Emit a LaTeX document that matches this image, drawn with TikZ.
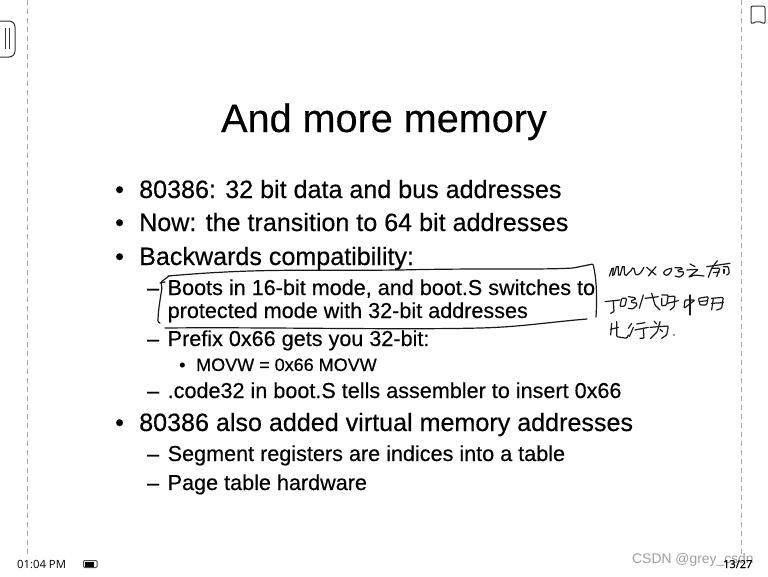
\documentclass[tikz,border=0pt]{standalone}
\usepackage{fontspec}
\setmainfont{Liberation Sans}
\newfontfamily\slidefont[FakeBold=0.35]{Liberation Sans}
\newfontfamily\statusfont{Open Sans}
\newfontfamily\pagefont[FakeBold=0.4]{Open Sans}
\tikzset{
  titletext/.style={anchor=base, inner sep=0pt, font=\fontsize{39.6}{39.6}\slidefont},
  lineone/.style={anchor=base west, inner sep=0pt, font=\fontsize{25.1}{25.1}\slidefont},
  linetwo/.style={anchor=base west, inner sep=0pt, font=\fontsize{21.6}{21.6}\slidefont},
  linethree/.style={anchor=base west, inner sep=0pt, font=\fontsize{18}{18}\slidefont},
  statustext/.style={anchor=base west, inner sep=0pt, font=\fontsize{11.3}{11.3}\statusfont},
  ink/.style={line width=1.2pt, line cap=round, line join=round, rounded corners=1pt, black!90},
  margin/.style={gray!70, line width=0.8pt, dash pattern=on 5pt off 4pt},
  chrome/.style={black!80, line width=1pt, rounded corners=2pt}
}
\begin{document}
\begin{tikzpicture}[x=1pt, y=-1pt]
\useasboundingbox (0,0) rectangle (768,576);
% margins of the reader
\draw[margin] (27,0) -- (27,555);
\draw[margin] (741,0) -- (741,555);
\draw[chrome, rounded corners=6pt] (-8,21) -- (15,21) -- (15,57) -- (-8,57);
\draw[chrome] (5,28) -- (5,49);
\draw[chrome] (9,28) -- (9,49);
\draw[chrome] (751,24) -- (751,6) -- (765,6) -- (765,24) -- (758,21) -- cycle;
% slide text
\node[titletext] (title) at (384,132) {And more memory};
\node[lineone] (bulleta) at (115,198) {•};
\node[lineone] (linea) at (139,198) {80386: 32 bit data and bus addresses};
\node[lineone] (bulletb) at (115,231) {•};
\node[lineone] (lineb) at (139,231) {Now: the transition to 64 bit addresses};
\node[lineone] (bulletc) at (115,265) {•};
\node[lineone] (linec) at (139,265) {Backwards compatibility:};
\node[linetwo] (dashd) at (147,295) {–};
\node[linetwo] (lined) at (167.5,295) {Boots in 16-bit mode, and boot.S switches to};
\node[linetwo] (linee) at (167.5,318) {protected mode with 32-bit addresses};
\node[linetwo] (dashf) at (147,346) {–};
\node[linetwo] (linef) at (167.5,346) {Prefix 0x66 gets you 32-bit:};
\node[linethree] (bulletg) at (179,371) {•};
\node[linethree] (lineg) at (196,371) {MOVW = 0x66 MOVW};
\node[linetwo] (dashh) at (147,398) {–};
\node[linetwo] (lineh) at (167.5,398) {.code32 in boot.S tells assembler to insert 0x66};
\node[lineone] (bulleti) at (115,431) {•};
\node[lineone] (linei) at (139,431) {80386 also added virtual memory addresses};
\node[linetwo] (dashj) at (147,461) {–};
\node[linetwo] (linej) at (167.5,461) {Segment registers are indices into a table};
\node[linetwo] (dashk) at (147,490) {–};
\node[linetwo] (linek) at (167.5,490) {Page table hardware};
% pen loop round the boot line
\draw[ink] (169,276) -- (161,282) -- (162,288) .. controls (160,300) and (158,312) .. (158,322) -- (160,323);
\draw[ink] (160,283) -- (165,282);
\draw[ink] (168,276) .. controls (260,268) and (300,271) .. (400,270) .. controls (480,268) and (540,270) .. (573,268) -- (593,264) .. controls (597,280) and (597,300) .. (596,317);
\draw[ink] (165,328) .. controls (260,327) and (400,330) .. (480,328) .. controls (520,327) and (550,322) .. (587,319);
% pen note, row by row
\begin{scope}[shift={(580,240)}, x=.3333pt, y=-.3333pt]
\draw[ink] plot[smooth, tension=.4] coordinates {(88,108) (98,85) (100,105) (112,80) (118,105) (130,80) (136,105) (150,95) (160,85) (168,103) (180,100) (192,82)};
\draw[ink] (200,82) -- (228,105);
\draw[ink] (228,80) -- (205,108);
\draw[ink] plot[smooth, tension=.6] coordinates {(275,85) (258,90) (252,100) (262,105) (272,95) (275,85)};
\draw[ink] plot[smooth, tension=.5] coordinates {(285,83) (305,85) (295,93) (310,98) (300,110) (285,108)};
\draw[ink] (330,72) -- (345,80);
\draw[ink] (320,90) -- (355,88) -- (325,112) -- (345,105) -- (372,108);
\draw[ink] (380,80) -- (450,70);
\draw[ink] (412,62) -- (395,85) -- (385,112);
\draw[ink] (395,85) -- (420,85) -- (410,110);
\draw[ink] (400,98) -- (418,96);
\draw[ink] (430,80) -- (445,80) -- (448,100) -- (440,105);
\draw[ink] (432,88) -- (432,100);
\draw[ink] (75,185) -- (120,180);
\draw[ink] (100,182) -- (102,215) -- (92,220);
\draw[ink] (125,175) -- (120,200) -- (135,198) -- (140,175) -- cycle;
\draw[ink] plot[smooth, tension=.5] coordinates {(145,170) (165,175) (155,185) (170,192) (160,205) (145,205)};
\draw[ink] (190,165) -- (178,205);
\draw[ink] (195,175) -- (235,170);
\draw[ink] (215,160) -- (225,195) -- (240,210);
\draw[ink] (245,165) -- (265,165) -- (260,195) -- (245,198) -- (245,175);
\draw[ink] (265,170) -- (285,168) -- (283,200) -- (270,210);
\draw[ink] (262,190) -- (295,182);
\draw[ink] (315,180) -- (312,205) -- (345,180) -- cycle;
\draw[ink] (330,165) -- (330,225);
\draw[ink] (355,175) -- (385,170) -- (380,195) -- (360,195) -- cycle;
\draw[ink] (358,185) -- (382,182);
\draw[ink] (395,175) -- (430,172) -- (425,205) -- (410,210);
\draw[ink] (395,190) -- (430,188);
\draw[ink] (400,175) -- (395,210);
\draw[ink] (95,250) -- (92,285);
\draw[ink] (92,268) -- (115,262);
\draw[ink] (110,245) -- (110,290) -- (140,295) -- (145,285);
\draw[ink] (155,250) -- (145,265);
\draw[ink] (160,262) -- (148,290);
\draw[ink] (170,252) -- (195,248);
\draw[ink] (165,270) -- (205,262);
\draw[ink] (190,265) -- (192,295) -- (180,295);
\draw[ink] (222,243) -- (230,252);
\draw[ink] (210,262) -- (265,258) -- (260,285) -- (245,295);
\draw[ink] (240,245) -- (232,275) -- (212,295);
\draw[ink] (240,268) -- (248,275);
\fill[black!85] (282,285) circle (2.5);
\end{scope}
% status bar
\node[statustext] (clock) at (17,568) {01:04 PM};
\draw[black!70, line width=1pt, rounded corners=1pt] (83.5,560.5) rectangle (97,567.5);
\fill[black] (84.5,561.5) rectangle (94,566.5);
\node[anchor=base west, inner sep=0pt, font=\fontsize{13.9}{13.9}\selectfont, gray!75] (mark) at (632,563) {CSDN @grey\_csdn};
\node[anchor=base west, inner sep=0pt, font=\fontsize{11}{11}\pagefont] (pagenum) at (723,568) {13/27};
\end{tikzpicture}
\end{document}
